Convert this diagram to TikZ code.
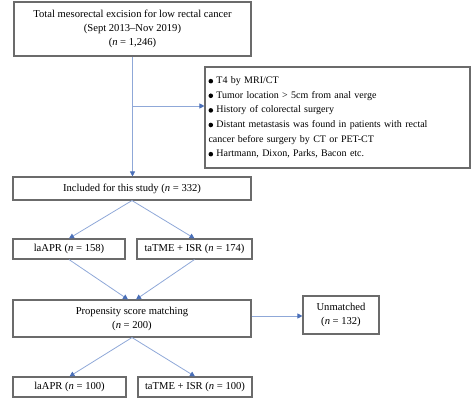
\documentclass[tikz,border=0pt]{standalone}
\usepackage{fontspec}
\setmainfont{Liberation Serif}
\usetikzlibrary{arrows.meta}
\definecolor{boxgray}{HTML}{6B6B6B}
\definecolor{lineblue}{HTML}{8FA8D8}
\definecolor{tipblue}{HTML}{4A6FB8}
\newcommand\blt{\tikz[baseline=-0.55ex]\fill[black] (0,0) circle (2.3pt);}
\begin{document}
\begin{tikzpicture}[x=1pt,y=-1pt,
  box/.style={draw=boxgray, line width=1.1pt, fill=white, inner sep=2pt, align=center, font=\fontsize{10.6}{14}\selectfont},
  arr/.style={draw=lineblue, line width=0.8pt, -{Triangle[length=5pt,width=5pt,fill=tipblue,color=tipblue]}}]
\useasboundingbox (0,0) rectangle (474,411);
\node[box, minimum width=237pt, minimum height=54pt] (top) at (132.5,29)
  {Total mesorectal excision for low rectal cancer\\(Sept 2013--Nov 2019)\\(\textit{n} = 1,246)};
\node[box, minimum width=265pt, minimum height=101pt, text width=258pt, align=left,
  font=\fontsize{10}{14.6}\selectfont] (excl) at (337.5,117.5)
  {\blt{} T4 by MRI/CT\\
   \blt{} Tumor location \textgreater{} 5cm from anal verge\\
   \blt{} History of colorectal surgery\\
   \blt{} Distant metastasis was found in patients with rectal\\
   cancer before surgery by CT or PET-CT\\
   \blt{} Hartmann, Dixon, Parks, Bacon etc.};
\node[box, minimum width=238pt, minimum height=23pt] (inc) at (132,188.5)
  {Included for this study (\textit{n} = 332)};
\node[box, minimum width=112pt, minimum height=20pt] (la1) at (69,249)
  {laAPR (\textit{n} = 158)};
\node[box, minimum width=115pt, minimum height=20pt] (ta1) at (194.5,249)
  {taTME + ISR (\textit{n} = 174)};
\node[box, minimum width=238pt, minimum height=37pt] (prop) at (132,318.5)
  {Propensity score matching\\(\textit{n} = 200)};
\node[box, minimum width=76pt, minimum height=38pt] (un) at (341,315)
  {Unmatched\\(\textit{n} = 132)};
\node[box, minimum width=113pt, minimum height=20pt] (la2) at (69.5,387)
  {laAPR (\textit{n} = 100)};
\node[box, minimum width=114pt, minimum height=20pt] (ta2) at (195,387)
  {taTME + ISR (\textit{n} = 100)};
\coordinate (j) at (132.5,106);
\draw[arr] (top.south) -- (top.south |- inc.north);
\draw[arr] (j) -- (j -| excl.west);
\draw[arr] (inc.south) -- (la1.north);
\draw[arr] (inc.south) -- (ta1.north);
\draw[arr] (la1.south) -- ([xshift=-4pt]prop.north);
\draw[arr] (ta1.south) -- ([xshift=4pt]prop.north);
\draw[arr] ([yshift=2.5pt]prop.east) -- ([yshift=2.5pt]prop.east -| un.west);
\draw[arr] (prop.south) -- (la2.north);
\draw[arr] (prop.south) -- (ta2.north);
\end{tikzpicture}
\end{document}
